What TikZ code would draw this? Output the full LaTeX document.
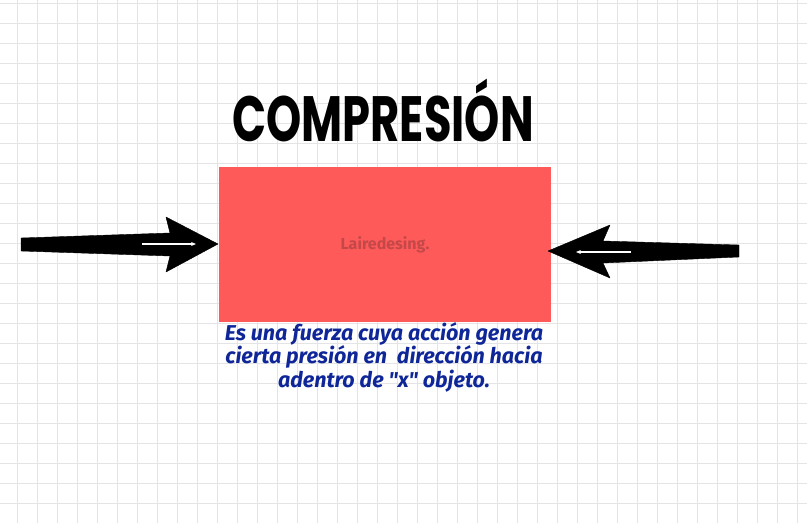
\documentclass[tikz,border=0pt]{standalone}
\usepackage{fontspec}
\setmainfont{Fira Sans}
\newfontfamily\titlefont{Poppins}
\usetikzlibrary{arrows.meta}
\definecolor{gridgray}{HTML}{E4E4E6}
\definecolor{boxred}{HTML}{FF5A5A}
\definecolor{markred}{HTML}{C44848}
\definecolor{descblue}{RGB}{14,38,152}

\begin{document}
\begin{tikzpicture}[x=1pt,y=-1pt,
    gridline/.style={gridgray,line width=0.8pt},
    fatarrow/.style={fill=black,draw=black,line join=round},
    thinarrow/.style={white,line width=1.1pt,-{Stealth[length=5pt,width=4pt]}}]
\useasboundingbox (0,0) rectangle (807,523);
\fill[white] (0,0) rectangle (807,523);
%\draw[red] (0,0) rectangle (807,523);
\foreach \gx in {0,...,39}
    \draw[gridline] (17.3+20*\gx,0) -- (17.3+20*\gx,523);
\foreach \gy in {0,...,25}
    \draw[gridline] (0,3.3+20*\gy) -- (807,3.3+20*\gy);

\begin{scope}
    \node (title) at (383,110) {\titlefont\bfseries\fontsize{64}{64}\selectfont\scalebox{0.7}[1]{COMPRESIÓN}};
    \node[fill=boxred,minimum width=332pt,minimum height=155pt,inner sep=0pt] (body) at (385,244.5) {};
    \node[text=markred,font=\bfseries\fontsize{16}{16}\selectfont] (mark) at (body.center) {Lairedesing.};
    \node[text=descblue,align=center,inner sep=0pt,font=\bfseries\itshape\fontsize{21.5}{23.5}\selectfont] (desc) at (384,357) {Es una fuerza cuya acción genera\\cierta presión en~ dirección hacia\\adentro de \textquotedbl x\textquotedbl{} objeto.};
\end{scope}

\begin{scope}
    \coordinate (ltip) at (218,244);
    \coordinate (rtip) at (548,251);
    \fill[fatarrow] (21,238) -- (170,233) -- (166,217) -- (ltip) -- (166,272) -- (170,256) -- (21,251) -- cycle;
    \fill[fatarrow] (739,245) -- (603,241) -- (610,225) -- (rtip) -- (610,278) -- (603,263) -- (739,257) -- cycle;
    \coordinate (lw1) at (142,244);
    \coordinate (lw2) at (196,244);
    \coordinate (rw1) at (631,252);
    \coordinate (rw2) at (576,252);
    \draw[thinarrow] (lw1) -- (lw2);
    \draw[thinarrow] (rw1) -- (rw2);
\end{scope}
\end{tikzpicture}
\end{document}
